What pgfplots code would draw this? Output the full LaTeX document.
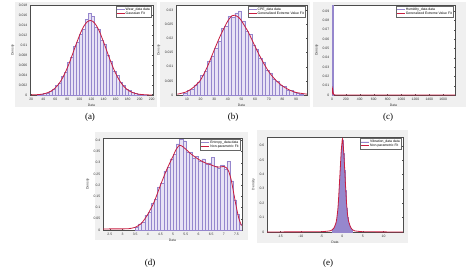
\documentclass[border=0pt]{standalone}
\usepackage{fontspec}
\setmainfont{Liberation Serif}
\newfontfamily\axfont{Liberation Sans}
\usepackage{pgfplots}
\pgfplotsset{compat=1.18}
\definecolor{lav}{RGB}{232,226,245}
\definecolor{purp}{RGB}{150,135,205}
\definecolor{fitred}{RGB}{200,30,65}
\definecolor{figbg}{RGB}{240,240,240}
\newcommand{\tk}{\axfont\fontsize{3.4}{3.8}\selectfont}
\pgfplotsset{
  panel/.style={
    scale only axis,
    axis background/.style={fill=white},
    tick align=inside,
    major tick length=1.4pt,
    tick style={line width=0.25pt, black!70},
    axis line style={line width=0.3pt, black!70},
    ticklabel style={font=\tk, text=black!80},
    /pgf/number format/assume math mode=true,
    /pgf/number format/1000 sep={},
    yticklabel style={/pgf/number format/fixed, /pgf/number format/precision=3},
    scaled ticks=false,
    xlabel={Data}, ylabel={Density},
    label style={font=\tk, text=black!80},
    xlabel style={yshift=2.5pt},
    ylabel style={yshift=-2.5pt},
    xticklabel style={yshift=0.8pt},
    yticklabel style={xshift=0.8pt},
    legend style={at={(0.985,0.985)}, anchor=north east, font=\tk,
      draw=black!60, line width=0.2pt, inner sep=0.6pt, row sep=-1.2pt,
      nodes={inner sep=0.6pt}},
    legend cell align=left,
  },
  hist/.style={ybar interval, fill=lav, draw=purp, line width=0.22pt,
    legend image code/.code={\draw[purp, line width=0.4pt] (0pt,0pt) -- (8pt,0pt);}},
  fit/.style={fitred, line width=0.8pt, smooth, tension=0.4,
    legend image code/.code={\draw[fitred, line width=0.8pt] (0pt,0pt) -- (8pt,0pt);}},
}
\begin{document}
\begin{tikzpicture}
\path[use as bounding box] (0pt,0pt) rectangle (474pt,274pt);
% figure backgrounds
\fill[figbg] (15pt,167pt) rectangle (157pt,272pt);
\fill[figbg] (160pt,167pt) rectangle (310pt,272pt);
\fill[figbg] (313pt,167pt) rectangle (466pt,272pt);
\fill[figbg] (95pt,34pt) rectangle (248pt,142pt);
\fill[figbg] (257pt,31pt) rectangle (408pt,144pt);

% (a)
\begin{axis}[panel, at={(30pt,179pt)}, anchor=south west, width=123pt, height=90pt,
  xmin=18, xmax=222, ymin=0, ymax=0.018,
  xtick={20,40,60,80,100,120,140,160,180,200,220},
  ytick={0,0.002,0.004,0.006,0.008,0.01,0.012,0.014,0.016,0.018}]
\addplot[hist] coordinates {
(30,0.0001) (35,0.00015) (40,0.0003) (45,0.0004) (50,0.0008) (55,0.0011)
(60,0.0019) (65,0.0024) (70,0.0037) (75,0.0046) (80,0.0066) (85,0.0075)
(90,0.0098) (95,0.0106) (100,0.0121) (105,0.0132) (110,0.0152) (115,0.0163)
(120,0.0158) (125,0.0136) (130,0.0131) (135,0.0110) (140,0.0101) (145,0.0079)
(150,0.0067) (155,0.0048) (160,0.0039) (165,0.0026) (170,0.0019) (175,0.0012)
(180,0.0009) (185,0.0005) (190,0.0003) (195,0.0002) (200,0.0001) (205,0.00005) (210,0)};
\addlegendentry{Wear\_data data}
\addplot[fit] coordinates {
(20,0.00002) (25,0.00004) (32.5,0.00009) (37.5,0.00016) (42.5,0.00028) (47.5,0.00047)
(52.5,0.00075) (57.5,0.00116) (62.5,0.00174) (67.5,0.00252) (72.5,0.00352) (77.5,0.00476)
(82.5,0.0062) (87.5,0.0078) (92.5,0.0095) (97.5,0.0111) (102.5,0.0126) (107.5,0.0138)
(112.5,0.0146) (117.5,0.0149) (122.5,0.0147) (127.5,0.0140) (132.5,0.0129) (137.5,0.0114)
(142.5,0.0098) (147.5,0.0081) (152.5,0.0065) (157.5,0.0050) (162.5,0.00375) (167.5,0.0027)
(172.5,0.00188) (177.5,0.00127) (182.5,0.00082) (187.5,0.00052) (192.5,0.00031)
(197.5,0.00018) (202.5,0.0001) (207.5,0.00006) (215,0.00002) (220,0.00001)};
\addlegendentry{Gaussian Fit}
\end{axis}

% (b)
\begin{axis}[panel, at={(176pt,179pt)}, anchor=south west, width=131pt, height=90pt,
  xmin=2, xmax=98, ymin=0, ymax=0.0318,
  xtick={10,20,30,40,50,60,70,80,90},
  ytick={0,0.005,0.01,0.015,0.02,0.025,0.03}]
\addplot[hist] coordinates {
(7.5,0.0008) (10,0.0016) (12.5,0.0021) (15,0.0036) (17.5,0.0044) (20,0.0069)
(22.5,0.0083) (25,0.0120) (27.5,0.0139) (30,0.0166) (32.5,0.0190) (35,0.0236)
(37.5,0.0244) (40,0.0278) (42.5,0.0276) (45,0.0290) (47.5,0.0297) (50,0.0262)
(52.5,0.0226) (55,0.0215) (57.5,0.0178) (60,0.0163) (62.5,0.0129) (65,0.0116)
(67.5,0.0088) (70,0.0078) (72.5,0.0057) (75,0.0050) (77.5,0.0035) (80,0.0030)
(82.5,0.0019) (85,0.0016) (87.5,0.0010) (90,0.0008) (92.5,0.0004) (95,0)};
\addlegendentry{CPE\_data data}
\addplot[fit] coordinates {
(3,0.0003) (5,0.0005) (10,0.0012) (15,0.0028) (20,0.0053) (25,0.0100) (30,0.0159)
(35,0.0215) (40,0.0262) (43,0.0280) (45,0.0282) (48,0.0274) (50,0.0262) (55,0.0222)
(60,0.0171) (65,0.0123) (70,0.0082) (75,0.0053) (80,0.0032) (85,0.0018) (90,0.0009)
(95,0.0005) (98,0.0003)};
\addlegendentry{Generalized Extreme Value Fit}
\end{axis}

% (c)
\begin{axis}[panel, at={(332pt,179pt)}, anchor=south west, width=123pt, height=90pt,
  xmin=0, xmax=1770, ymin=0, ymax=0.0964,
  xtick={0,200,400,600,800,1000,1200,1400,1600},
  ytick={0,0.01,0.02,0.03,0.04,0.05,0.06,0.07,0.08,0.09}]
\addplot[hist] coordinates {(0,0.2) (12,0)};
\addlegendentry{Humidity\_data data}
\addplot[fitred, line width=0.8pt,
  legend image code/.code={\draw[fitred, line width=0.8pt] (0pt,0pt) -- (8pt,0pt);}]
  coordinates {(0,0) (3,0.003) (8,0.0065) (14,0.004) (22,0.001) (35,0.0002) (60,0) (1770,0)};
\addlegendentry{Generalized Extreme Value Fit}
\end{axis}

% (d)
\begin{axis}[panel, at={(103pt,44pt)}, anchor=south west, width=139pt, height=92pt,
  xmin=2.23, xmax=7.72, ymin=0, ymax=0.41,
  xtick={2.5,3,3.5,4,4.5,5,5.5,6,6.5,7,7.5},
  ytick={0,0.05,0.1,0.15,0.2,0.25,0.3,0.35,0.4},
  xticklabel style={/pgf/number format/fixed}]
\addplot[hist] coordinates {
(3.5,0.012) (3.625,0.028) (3.75,0.035) (3.875,0.066) (4.0,0.08) (4.125,0.118)
(4.25,0.138) (4.375,0.192) (4.5,0.21) (4.625,0.262) (4.75,0.28) (4.875,0.318)
(5.0,0.338) (5.125,0.385) (5.25,0.403) (5.375,0.398) (5.5,0.345) (5.625,0.348)
(5.75,0.322) (5.875,0.328) (6.0,0.305) (6.125,0.318) (6.25,0.292) (6.375,0.3)
(6.5,0.325) (6.625,0.285) (6.75,0.276) (6.875,0.29) (7.0,0.27) (7.125,0.305)
(7.25,0.22) (7.375,0.135) (7.5,0.07) (7.625,0.025) (7.75,0)};
\addlegendentry{Entropy\_data data}
\addplot[fit] coordinates {
(2.23,0.004) (2.5,0.005) (3,0.005) (3.25,0.006) (3.5,0.012) (3.75,0.03) (4,0.07)
(4.25,0.125) (4.5,0.2) (4.75,0.27) (5,0.33) (5.1,0.355) (5.25,0.378) (5.4,0.37)
(5.5,0.36) (5.75,0.335) (6,0.315) (6.25,0.3) (6.5,0.29) (6.75,0.28) (7,0.283)
(7.1,0.278) (7.2,0.26) (7.3,0.22) (7.4,0.16) (7.5,0.1) (7.6,0.05) (7.7,0.02)};
\addlegendentry{Non-parametric Fit}
\end{axis}

% (e)
\begin{axis}[panel, at={(267pt,42pt)}, anchor=south west, width=136pt, height=95pt,
  xmin=-18.2, xmax=14.7, ymin=0, ymax=0.66,
  xtick={-15,-10,-5,0,5,10},
  ytick={0,0.1,0.2,0.3,0.4,0.5,0.6}]
\addplot[hist] coordinates {
(-2.5,0.014) (-2.25,0.024) (-2.0,0.033) (-1.75,0.052) (-1.5,0.08) (-1.25,0.145)
(-1.0,0.235) (-0.75,0.37) (-0.5,0.49) (-0.25,0.6) (0,0.635) (0.25,0.55)
(0.5,0.43) (0.75,0.29) (1.0,0.165) (1.25,0.105) (1.5,0.06) (1.75,0.042)
(2.0,0.026) (2.25,0.016) (2.5,0)};
\addlegendentry{Vibration\_data data}
\addplot[fit] coordinates {
(-18.2,0.0005) (-10,0.001) (-5,0.002) (-3,0.008) (-2.5,0.013) (-2,0.028) (-1.5,0.065)
(-1.25,0.11) (-1,0.18) (-0.75,0.3) (-0.5,0.43) (-0.25,0.56) (0,0.64) (0.1,0.645)
(0.25,0.6) (0.5,0.49) (0.75,0.35) (1,0.22) (1.25,0.13) (1.5,0.08) (2,0.035)
(2.5,0.015) (3,0.008) (5,0.002) (10,0.0008) (14.7,0.0005)};
\addlegendentry{Non-parametric Fit}
\end{axis}

% captions
\node[font=\fontsize{9}{10}\selectfont] at (90pt,157pt) {(a)};
\node[font=\fontsize{9}{10}\selectfont] at (233pt,157pt) {(b)};
\node[font=\fontsize{9}{10}\selectfont] at (388pt,157pt) {(c)};
\node[font=\fontsize{9}{10}\selectfont] at (150pt,11pt) {(d)};
\node[font=\fontsize{9}{10}\selectfont] at (328pt,11pt) {(e)};
\end{tikzpicture}
\end{document}
